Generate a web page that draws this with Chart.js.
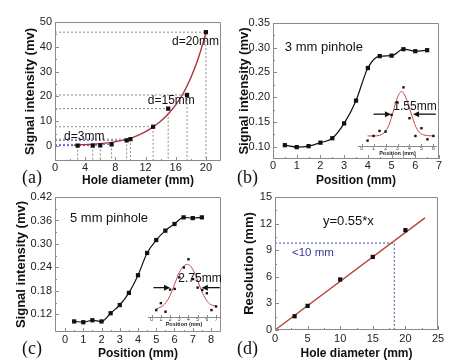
<!DOCTYPE html>
<html>
<head>
<meta charset="utf-8">
<script src="https://cdn.jsdelivr.net/npm/chart.js@4.4.1/dist/chart.umd.min.js"></script>
<style>
html, body { margin: 0; padding: 0; background: #fff; }
#fig { position: relative; width: 474px; height: 361px; overflow: hidden; background: #fff; }
#fig canvas { position: absolute; }
.lbl { position: absolute; font-family: 'Liberation Serif', 'Times New Roman', serif; font-size: 18px; line-height: 1; color: #111; }
</style>
</head>
<body>
<div id="fig">
  <canvas id="chartA" width="237" height="188" style="left:0;top:0"></canvas>
  <canvas id="chartB" width="237" height="188" style="left:237px;top:0"></canvas>
  <canvas id="chartC" width="237" height="181" style="left:0;top:180px"></canvas>
  <canvas id="chartD" width="237" height="181" style="left:237px;top:180px"></canvas>
  <canvas id="insetB" width="95" height="87" style="left:350px;top:70px"></canvas>
  <canvas id="insetC" width="90" height="88" style="left:140px;top:240px"></canvas>
  <div class="lbl" style="left:22px;top:168px">(a)</div>
  <div class="lbl" style="left:237px;top:168px">(b)</div>
  <div class="lbl" style="left:22px;top:339px">(c)</div>
  <div class="lbl" style="left:237px;top:339px">(d)</div>
</div>
<script>
// ─── data ───

// (a) signal vs hole diameter
const holeDia = [3, 5, 6, 7.5, 9.5, 10, 13, 15, 17.5, 20];
const holeSig = [0.2, 0.2, 0.3, 0.7, 2.3, 2.8, 7.8, 15.1, 20.6, 45.9];
const fitDia  = [2.5, 5, 7.5, 10, 11, 12, 13, 14, 15, 16, 17, 18, 19, 20];
const fitSig  = [0.4, 0.8, 1.5, 3.1, 4.3, 5.8, 7.8, 10.0, 12.9, 16.6, 21.3, 27.5, 35.5, 45.5];
const ticksAx = [0, 4, 8, 12, 16, 20];
const ticksAy = [0, 10, 20, 30, 40, 50];

// (b) 3 mm pinhole scan
const posB = [0.5, 1, 1.5, 2, 2.5, 3, 3.5, 4, 4.5, 5, 5.5, 6, 6.5];
const sigB = [0.103, 0.099, 0.101, 0.108, 0.117, 0.147, 0.193, 0.259, 0.283, 0.284, 0.297, 0.293, 0.295];
const ticksBx = [0, 1, 2, 3, 4, 5, 6, 7];
const ticksBy = [0.10, 0.15, 0.20, 0.25, 0.30, 0.35];
// inset (b), arbitrary units
const insBx = [0.5, 1, 1.5, 2, 2.5, 3, 3.5, 4, 4.5, 5, 5.5, 6];
const insBy = [16, 30, 45, 43, 93, 130, 175, 83, 30, 53, 20, 30];
const insBfitX = [0.5, 1, 1.5, 2, 2.3, 2.6, 2.9, 3.1, 3.35, 3.6, 3.9, 4.2, 4.5, 4.8, 5.2, 6];
const insBfitY = [30, 30, 32, 44, 64, 98, 135, 153, 163, 152, 125, 90, 60, 42, 33, 30];
const ticksInsB = [0, 1, 2, 3, 4, 5, 6];

// (c) 5 mm pinhole scan
const posC = [0.5, 1, 1.5, 2, 2.5, 3, 3.5, 4, 4.5, 5, 5.5, 6, 6.5, 7, 7.5];
const sigC = [0.102, 0.100, 0.105, 0.102, 0.123, 0.144, 0.175, 0.220, 0.277, 0.310, 0.334, 0.351, 0.368, 0.366, 0.368];
const ticksCx = [0, 1, 2, 3, 4, 5, 6, 7, 8];
const ticksCy = [0.12, 0.18, 0.24, 0.30, 0.36, 0.42];
// inset (c)
const insCx = [0.5, 1, 1.5, 2, 2.5, 3, 3.5, 4, 4.5, 5, 5.5, 6, 6.5, 7];
const insCy = [21, 42, 16, 83, 85, 120, 150, 175, 115, 89, 82, 72, 21, 32];
const insCfitX = [0.5, 1, 1.5, 2, 2.5, 3, 3.5, 3.9, 4.3, 4.8, 5.3, 5.8, 6.3, 7];
const insCfitY = [25, 30, 42, 65, 100, 135, 155, 159, 152, 125, 88, 58, 40, 32];
const ticksInsC = [0, 1, 2, 3, 4, 5, 6, 7];

// (d) resolution vs hole diameter
const holeD = [3, 5, 10, 15, 20];
const resD  = [1.55, 2.72, 5.70, 8.24, 11.26];
const fitDx = [0, 23];
const fitDy = [0, 12.65];
const guideDx = [0, 18.3, 18.3];
const guideDy = [9.8, 9.8, 0];
const ticksDx = [0, 5, 10, 15, 20, 25];
const ticksDy = [0, 3, 6, 9, 12, 15];

// ─── helpers ───
const FONT = "'Liberation Sans', Arial, sans-serif";
const pts = (xs, ys) => xs.map((x, i) => ({ x, y: ys[i] }));

function xScale(min, max, list, title, height, pad, fmt) {
  return {
    type: 'linear', position: 'bottom', min, max,
    afterBuildTicks: s => { s.ticks = list.map(v => ({ value: v })); },
    afterFit: s => { s.height = height; },
    grid: { display: false, drawTicks: false },
    border: { display: false },
    ticks: { font: { family: FONT, size: 11 }, color: '#222', padding: pad, maxRotation: 0, autoSkip: false,
             callback: fmt || (v => v) },
    title: { display: true, text: title, color: '#111', padding: 0,
             font: { family: FONT, size: 12, weight: 'bold' } }
  };
}
function yScale(min, max, list, title, width, gap, fmt) {
  return {
    type: 'linear', position: 'left', min, max,
    afterBuildTicks: s => { s.ticks = list.map(v => ({ value: v })); },
    afterFit: s => { s.width = width; },
    grid: { display: false, drawTicks: false },
    border: { display: false },
    ticks: { font: { family: FONT, size: 11 }, color: '#222', padding: 3, autoSkip: false,
             callback: fmt || (v => v) },
    title: { display: true, text: title, color: '#111', padding: { top: gap, bottom: 0 },
             font: { family: FONT, size: 13, weight: 'bold' } }
  };
}

// box + inward major/minor ticks on left and bottom
const framePlugin = {
  id: 'frame',
  afterDatasetsDraw(chart, args, o) {
    const { ctx, chartArea: a, scales: { x, y } } = chart;
    ctx.save();
    ctx.strokeStyle = '#8a8a8a';
    ctx.lineWidth = 1;
    ctx.beginPath();
    if (o.inset) {
      ctx.moveTo(a.left, a.bottom + 0.5); ctx.lineTo(a.right, a.bottom + 0.5);
      x.ticks.forEach(t => {
        const px = Math.round(x.getPixelForValue(t.value)) + 0.5;
        ctx.moveTo(px, a.bottom); ctx.lineTo(px, a.bottom - 2);
      });
      ctx.stroke(); ctx.restore(); return;
    }
    ctx.rect(a.left + 0.5, a.top + 0.5, a.width - 1, a.height - 1);
    const xs = x.ticks.map(t => t.value), ys = y.ticks.map(t => t.value);
    xs.forEach((v, i) => {
      const px = Math.round(x.getPixelForValue(v)) + 0.5;
      ctx.moveTo(px, a.bottom); ctx.lineTo(px, a.bottom - 4);
      if (i < xs.length - 1) {
        const pm = Math.round(x.getPixelForValue((v + xs[i + 1]) / 2)) + 0.5;
        ctx.moveTo(pm, a.bottom); ctx.lineTo(pm, a.bottom - 2);
      }
    });
    ys.forEach((v, i) => {
      const py = Math.round(y.getPixelForValue(v)) + 0.5;
      ctx.moveTo(a.left, py); ctx.lineTo(a.left + 4, py);
      if (i < ys.length - 1) {
        const pm = Math.round(y.getPixelForValue((v + ys[i + 1]) / 2)) + 0.5;
        ctx.moveTo(a.left, pm); ctx.lineTo(a.left + 2, pm);
      }
    });
    ctx.stroke();
    ctx.restore();
  }
};

// text labels and FWHM arrows placed in data coordinates
const notesPlugin = {
  id: 'notes',
  afterDatasetsDraw(chart, args, o) {
    const { ctx, scales: { x, y } } = chart;
    ctx.save();
    (o.arrows || []).forEach(ar => {
      const x1 = x.getPixelForValue(ar.x1), x2 = x.getPixelForValue(ar.x2), py = y.getPixelForValue(ar.y);
      const dir = Math.sign(x2 - x1);
      ctx.strokeStyle = '#111'; ctx.fillStyle = '#111'; ctx.lineWidth = 1.3;
      ctx.beginPath(); ctx.moveTo(x1, py); ctx.lineTo(x2 - dir * 4, py); ctx.stroke();
      ctx.beginPath(); ctx.moveTo(x2, py); ctx.lineTo(x2 - dir * 6, py - 3); ctx.lineTo(x2 - dir * 6, py + 3);
      ctx.closePath(); ctx.fill();
    });
    (o.texts || []).forEach(t => {
      ctx.font = t.font; ctx.fillStyle = t.color || '#111';
      ctx.textAlign = 'left'; ctx.textBaseline = 'middle';
      ctx.fillText(t.text, x.getPixelForValue(t.x), y.getPixelForValue(t.y));
    });
    ctx.restore();
  }
};

const base = (pad, frame, notes) => ({
  responsive: false, animation: false, devicePixelRatio: 1, events: [],
  layout: { padding: pad },
  plugins: { legend: { display: false }, tooltip: { enabled: false }, frame, notes }
});

const dotSet = (xs, ys, r) => ({
  data: pts(xs, ys), showLine: false, pointStyle: 'rect', pointRadius: r,
  pointBackgroundColor: '#111', pointBorderColor: '#111', pointBorderWidth: 0
});

// ─── (a) ───
const guidesA = [];
holeDia.forEach((d, i) => {
  guidesA.push({ data: [{ x: 0, y: holeSig[i] }, { x: d, y: holeSig[i] }],
    borderColor: i < 5 ? '#6a6ad0' : '#8c8c8c', borderWidth: 1, borderDash: [2, 2], pointRadius: 0 });
  guidesA.push({ data: [{ x: d, y: holeSig[i] }, { x: d, y: -6 }],
    borderColor: '#8c8c8c', borderWidth: 1, borderDash: [2, 2], pointRadius: 0 });
});
new Chart(document.getElementById('chartA'), {
  type: 'line',
  data: { datasets: [
    dotSet(holeDia, holeSig, 3),
    { data: pts(fitDia, fitSig), borderColor: '#b3303a', borderWidth: 1.4, pointRadius: 0, cubicInterpolationMode: 'monotone' },
    ...guidesA
  ] },
  options: {
    ...base({ left: 0, right: 16, top: 22, bottom: 0 }, {},
      { texts: [
        { text: 'd=20mm', x: 15.5, y: 41.9, font: '12px ' + FONT },
        { text: 'd=15mm', x: 12.3, y: 18.5, font: '12px ' + FONT },
        { text: 'd=3mm',  x: 1.2,  y: 3.6,  font: '12px ' + FONT }
      ] }),
    scales: {
      x: xScale(0, 22, ticksAx, 'Hole diameter (mm)', 27, 0),
      y: yScale(-6, 50, ticksAy, 'Signal intensity (mv)', 55, 23)
    }
  },
  plugins: [framePlugin, notesPlugin]
});

// ─── (b) ───
new Chart(document.getElementById('chartB'), {
  type: 'line',
  data: { datasets: [
    { ...dotSet(posB, sigB, 3), showLine: true, borderColor: '#111', borderWidth: 1.2, cubicInterpolationMode: 'monotone' }
  ] },
  options: {
    ...base({ left: 0, right: 35, top: 23, bottom: 0 }, {},
      { texts: [{ text: '3 mm pinhole', x: 0.5, y: 0.3015, font: '13px ' + FONT }] }),
    scales: {
      x: xScale(0, 7, ticksBx, 'Position (mm)', 29, 0),
      y: yScale(0.075, 0.35, ticksBy, 'Signal intensity (mv)', 36, 0, v => v.toFixed(2))
    }
  },
  plugins: [framePlugin, notesPlugin]
});

// ─── (c) ───
new Chart(document.getElementById('chartC'), {
  type: 'line',
  data: { datasets: [
    { ...dotSet(posC, sigC, 3), showLine: true, borderColor: '#111', borderWidth: 1.2, cubicInterpolationMode: 'monotone' }
  ] },
  options: {
    ...base({ left: 0, right: 16, top: 17, bottom: 0 }, {},
      { texts: [{ text: '5 mm pinhole', x: 0.27, y: 0.364, font: '13px ' + FONT }] }),
    scales: {
      x: xScale(-0.55, 8.55, ticksCx, 'Position (mm)', 29, 1),
      y: yScale(0.075, 0.42, ticksCy, 'Signal intensity (mv)', 55, 14, v => v.toFixed(2))
    }
  },
  plugins: [framePlugin, notesPlugin]
});

// ─── (d) ───
new Chart(document.getElementById('chartD'), {
  type: 'line',
  data: { datasets: [
    dotSet(holeD, resD, 3),
    { data: pts(fitDx, fitDy), borderColor: '#b5453a', borderWidth: 1.4, pointRadius: 0 },
    { data: pts(guideDx, guideDy), borderColor: '#4a4aa8', borderWidth: 1, borderDash: [2, 2], pointRadius: 0 }
  ] },
  options: {
    ...base({ left: 0, right: 36, top: 17, bottom: 0 }, {},
      { texts: [
        { text: 'y=0.55*x', x: 7.35, y: 12.2, font: '13px ' + FONT },
        { text: '<10 mm', x: 2.6, y: 8.7, font: '11.5px ' + FONT, color: '#3a3a9a' }
      ] }),
    scales: {
      x: xScale(0, 25, ticksDx, 'Hole diameter (mm)', 31, 2),
      y: yScale(0, 15, ticksDy, 'Resolution (mm)', 38, 5)
    }
  },
  plugins: [framePlugin, notesPlugin]
});

// ─── insets ───
function insetX(min, max, list, height) {
  return {
    type: 'linear', position: 'bottom', min, max,
    afterBuildTicks: s => { s.ticks = list.map(v => ({ value: v })); },
    afterFit: s => { s.height = height; },
    grid: { display: false, drawTicks: false },
    border: { display: false },
    ticks: { font: { family: FONT, size: 5 }, color: '#333', padding: 0, maxRotation: 0, autoSkip: false },
    title: { display: true, text: 'Position (mm)', color: '#222', padding: 0,
             font: { family: FONT, size: 5.5, weight: 'bold' } }
  };
}
const fitSet = (xs, ys) => ({ data: pts(xs, ys), borderColor: '#c0484a', borderWidth: 1, pointRadius: 0,
  cubicInterpolationMode: 'monotone' });

new Chart(document.getElementById('insetB'), {
  type: 'line',
  data: { datasets: [dotSet(insBx, insBy, 1.7), fitSet(insBfitX, insBfitY)] },
  options: {
    ...base({ left: 8, right: 8, top: 9, bottom: 0 }, { inset: true },
      { arrows: [{ x1: 1.0, x2: 2.45, y: 95 }, { x1: 6.2, x2: 4.3, y: 95 }],
        texts: [{ text: '1.55mm', x: 2.65, y: 118, font: '12px ' + FONT }] }),
    scales: { x: insetX(-0.3, 6.3, ticksInsB, 11), y: { display: false, min: 0, max: 200 } }
  },
  plugins: [framePlugin, notesPlugin]
});

new Chart(document.getElementById('insetC'), {
  type: 'line',
  data: { datasets: [dotSet(insCx, insCy, 1.7), fitSet(insCfitX, insCfitY)] },
  options: {
    ...base({ left: 8, right: 10, top: 11, bottom: 0 }, { inset: true },
      { arrows: [{ x1: 0.2, x2: 2.0, y: 89 }, { x1: 7.4, x2: 5.45, y: 89 }],
        texts: [{ text: '2.75mm', x: 2.9, y: 115, font: '12px ' + FONT }] }),
    scales: { x: insetX(-0.4, 7.43, ticksInsC, 11), y: { display: false, min: 0, max: 200 } }
  },
  plugins: [framePlugin, notesPlugin]
});
</script>
</body>
</html>
